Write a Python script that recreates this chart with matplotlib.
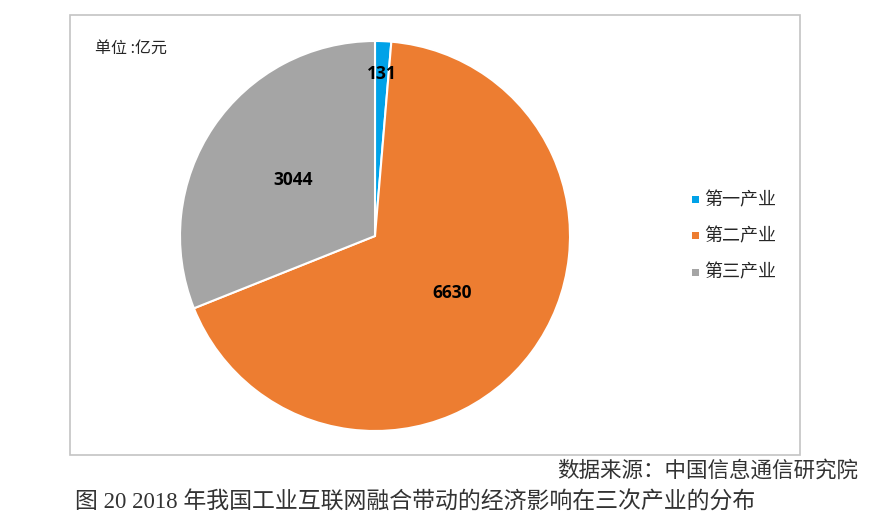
"""Pie chart: 2018 industrial internet economic impact by sector."""

import matplotlib

matplotlib.use("Agg")

import matplotlib.pyplot as plt
import numpy as np
from matplotlib.patches import Rectangle

plt.rcParams["font.family"] = ["Noto Sans CJK SC", "DejaVu Sans"]

# data
sectors = ["第一产业", "第二产业", "第三产业"]
values = [131, 6630, 3044]
colors = ["#00a2e8", "#ed7d31", "#a5a5a5"]

unit_text = "单位 :亿元"
source_text = "数据来源：中国信息通信研究院"
caption_text = "图 20 2018 年我国工业互联网融合带动的经济影响在三次产业的分布"

W, H = 875, 532
fig = plt.figure(figsize=(W / 100, H / 100), dpi=100)
fig.patch.set_facecolor("white")

# chart frame
fig.patches.append(Rectangle((70 / W, 1 - 455 / H), 730 / W, 440 / H,
                             transform=fig.transFigure, fill=False,
                             edgecolor="#c4c4c4", linewidth=1.2, zorder=1))

cx, cy, r = 375, 236, 195
ax = fig.add_axes([(cx - r) / W, (H - cy - r) / H, 2 * r / W, 2 * r / H])
wedges, _ = ax.pie(values, colors=colors, startangle=90, counterclock=False,
                   wedgeprops=dict(edgecolor="white", linewidth=1.5))
ax.set_xlim(-1, 1)
ax.set_ylim(-1, 1)
ax.set_aspect("equal")
ax.axis("off")

label_r = [0.83, 0.49, 0.51]
for w, v, lr in zip(wedges, values, label_r):
    mid = np.deg2rad((w.theta1 + w.theta2) / 2)
    ax.text(lr * np.cos(mid), lr * np.sin(mid), f"{v}", ha="center",
            va="center", fontsize=12.5, fontweight="bold", color="black",
            family=["Open Sans", "DejaVu Sans"])

# legend
for i, (name, c) in enumerate(zip(sectors, colors)):
    y = 1 - (200 + 36 * i) / H
    fig.patches.append(Rectangle((692 / W, y - 3.5 / H), 7 / W, 7 / H,
                                 transform=fig.transFigure, facecolor=c,
                                 edgecolor="none"))
    fig.text(704 / W, y, name, fontsize=13, color="#262626", va="center")

fig.text(95 / W, 1 - 48 / H, unit_text, fontsize=11.5, color="#262626",
         va="center")

fig.text(858 / W, 1 - 471 / H, source_text, fontsize=15.5, color="#333333",
         ha="right", va="center", fontweight="light",
         family=["Liberation Serif", "Noto Sans CJK SC"])
fig.text(75 / W, 1 - 503 / H, caption_text, fontsize=16.5, color="#333333",
         ha="left", va="center", fontweight="light",
         family=["Liberation Serif", "Noto Sans CJK SC"])

fig.savefig("out.png", dpi=100)
